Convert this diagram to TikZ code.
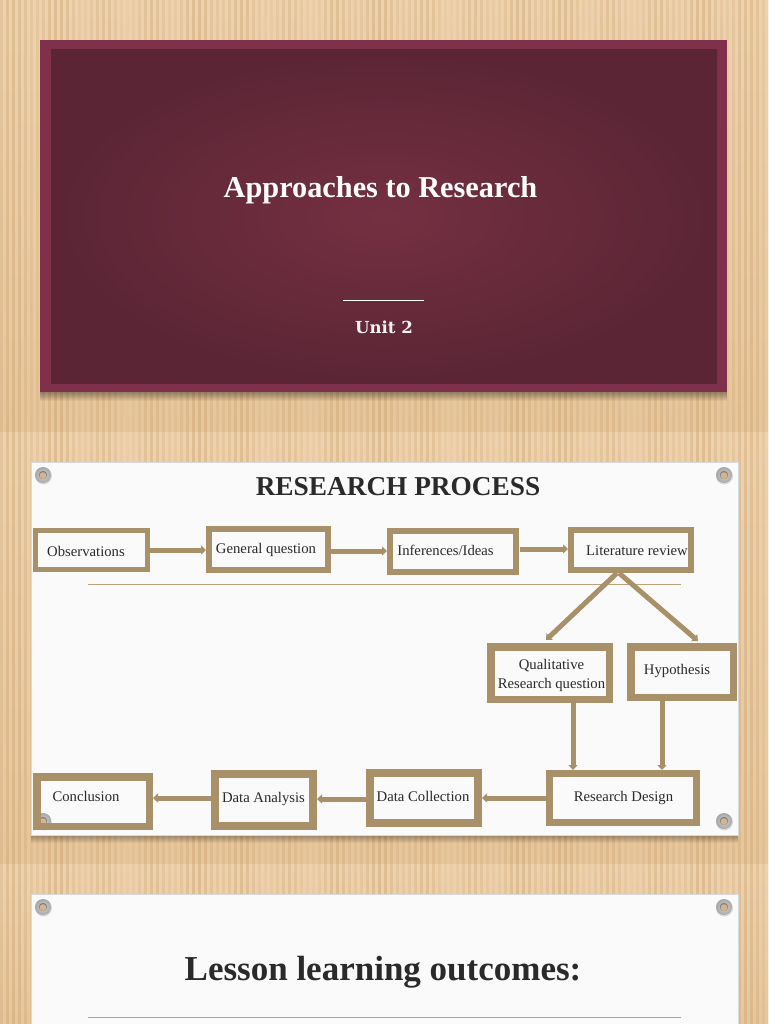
\documentclass[tikz,border=0pt]{standalone}
\usepackage{fontspec}
\setmainfont{Liberation Serif}
\newfontfamily\unitfont{DejaVu Serif}
\usetikzlibrary{arrows.meta,calc}
\definecolor{frameC}{HTML}{A89169}
\definecolor{ruleC}{HTML}{BCA27A}
\definecolor{inkC}{HTML}{2A2A2A}
\definecolor{paperC}{HTML}{FAFAFA}
\definecolor{slideEdge}{HTML}{7F304B}
\definecolor{slideIn}{HTML}{743042}
\definecolor{slideOut}{HTML}{5B2535}
\definecolor{woodTop}{HTML}{EDD2AE}
\definecolor{woodBot}{HTML}{E6C69C}
\definecolor{stripeC}{HTML}{C4945A}
\tikzset{
  x=1pt,y=-1pt,
  boxlabel/.style={font=\fontsize{14.7}{17.5}\selectfont,text=inkC,inner sep=0pt,align=center},
  flow/.style={draw=frameC,line width=5pt,-{Triangle[length=5pt,width=9pt]}},
  paper/.style={fill=paperC,draw=black!15,line width=.5pt},
  title/.style={text=inkC,inner sep=0pt},
}
% name, x1, y1, x2, y2, border
\newcommand{\fbx}[6]{%
  \pgfmathsetmacro{\bw}{#4-#2-#6}\pgfmathsetmacro{\bh}{#5-#3-#6}%
  \node[draw=frameC,line width=#6pt,minimum width=\bw pt,minimum height=\bh pt,inner sep=0pt,outer sep=.5*#6pt] (#1) at ({(#2+#4)/2},{(#3+#5)/2}) {};}
\newcommand{\eyelet}[2]{%
  \fill[black,opacity=.12] (#1+.5,#2+1) circle (8.5);
  \shade[inner color=white!85!black,outer color=black!35] (#1,#2) circle (8);
  \fill[black!50] (#1,#2) circle (4.2);
  \fill[stripeC!70!white] (#1,#2+.6) circle (3.4);}
\newcommand{\shadowbelow}[4]{% x1 x2 y len
  \foreach \i in {1,...,#4}{\fill[black,opacity=.045] (#1,#3) rectangle (#2,#3+\i);}}
\begin{document}
\begin{tikzpicture}
\useasboundingbox (0,0) rectangle (768,1024);
% wood
\foreach \a/\b in {0/432,432/864,864/1024}{
  \shade[top color=woodTop,bottom color=woodBot] (0,\a) rectangle (768,\b);
}
\foreach \k in {0,...,128}{
  \pgfmathsetmacro{\op}{.20+.09*sin(\k*47)+.05*sin(\k*13)}
  \fill[stripeC,opacity=\op] ({\k*6},0) rectangle ({\k*6+3},1024);
}
% slide 1
\shadowbelow{40}{727}{392}{9}
\fill[slideEdge] (40,40) rectangle (727,392);
\shade[inner color=slideIn,outer color=slideOut] (51,50) rectangle (717,383);
\node[font=\bfseries\fontsize{30.3}{36}\selectfont,text=white,inner sep=0pt] (t1) at (380.5,190) {Approaches to Research};
\coordinate (ruleA) at (343,300.5); \coordinate (ruleB) at (424,300.5);
\draw[white,line width=.8pt] (ruleA) -- (ruleB);
\node[font=\unitfont\bfseries\fontsize{16.6}{19}\selectfont,text=white!95!black,inner sep=0pt] (t2) at (384,327) {Unit 2};
% slide 2
\shadowbelow{31}{738}{835}{8}
\fill[paper] (31,462) rectangle (738,835);
\eyelet{43}{475}\eyelet{724}{475}\eyelet{724}{821}\eyelet{43}{821}
\node[title,font=\bfseries\fontsize{27.3}{32}\selectfont] (t3) at (398,487) {RESEARCH PROCESS};
\coordinate (ruleC) at (88,584.5); \coordinate (ruleD) at (681,584.5);
\draw[ruleC,line width=.8pt] (ruleC) -- (ruleD);
% boxes
\fbx{obs}{33}{528}{150}{572}{5}
\fbx{gen}{206}{526}{331}{573}{6}
\fbx{inf}{387}{528}{519}{575}{6}
\fbx{lit}{568}{527}{694}{573}{6}
\fbx{qual}{487}{643}{613}{703}{7.5}
\fbx{hyp}{627}{643}{737}{701}{7.5}
\fbx{conc}{33}{773}{153}{830}{7.5}
\fbx{da}{211}{770}{317}{830}{8}
\fbx{dc}{366}{769}{482}{827}{8}
\fbx{rd}{546}{770}{700}{826}{7}
% labels
\node[boxlabel] (obsT) at (86,551) {Observations};
\node[boxlabel] (genT) at (266,550) {General question};
\node[boxlabel] (infT) at (445.5,550) {Inferences/Ideas};
\node[boxlabel] (litT) at (637,551) {Literature review};
\node[boxlabel] (qualT) at (551.5,675.5) {Qualitative\\[1pt]Research question};
\node[boxlabel] (hypT) at (677,670.5) {Hypothesis};
\node[boxlabel] (concT) at (86,796) {Conclusion};
\node[boxlabel] (daT) at (263.5,799) {Data Analysis};
\node[boxlabel] (dcT) at (423,796) {Data Collection};
\node[boxlabel] (rdT) at (623.5,798) {Research Design};
% connectors
\draw[flow] (obs.east) -- ([yshift=-.5pt]gen.west);
\draw[flow] ([yshift=-1.5pt]gen.east) -- ([yshift=.5pt]inf.west);
\draw[flow] ([xshift=1pt,yshift=2.5pt]inf.east) -- ([yshift=1pt]lit.west);
\draw[flow] ([xshift=-14pt]lit.south) -- ([xshift=-4pt,yshift=3pt]qual.north);
\draw[flow] ([xshift=-12pt]lit.south) -- ([xshift=16pt,yshift=2pt]hyp.north);
\draw[flow] ([xshift=23pt]qual.south) -- ([xshift=-50pt]rd.north);
\draw[flow] ([xshift=-20pt]hyp.south) -- ([xshift=39pt]rd.north);
\draw[flow] (rd.west) -- (dc.east);
\draw[flow] ([yshift=-1pt]dc.west) -- ([yshift=1pt]da.east);
\draw[flow] ([yshift=2pt]da.west) -- ([yshift=3.5pt]conc.east);
% slide 3
\fill[paper] (31,894) rectangle (738,1030);
\eyelet{43}{907}\eyelet{724}{907}
\node[title,font=\bfseries\fontsize{35}{42}\selectfont] (t4) at (383,972.5) {Lesson learning outcomes:};
\coordinate (ruleE) at (88,1017); \coordinate (ruleF) at (681,1017);
\draw[ruleC,line width=.8pt] (ruleE) -- (ruleF);
\end{tikzpicture}
\end{document}
